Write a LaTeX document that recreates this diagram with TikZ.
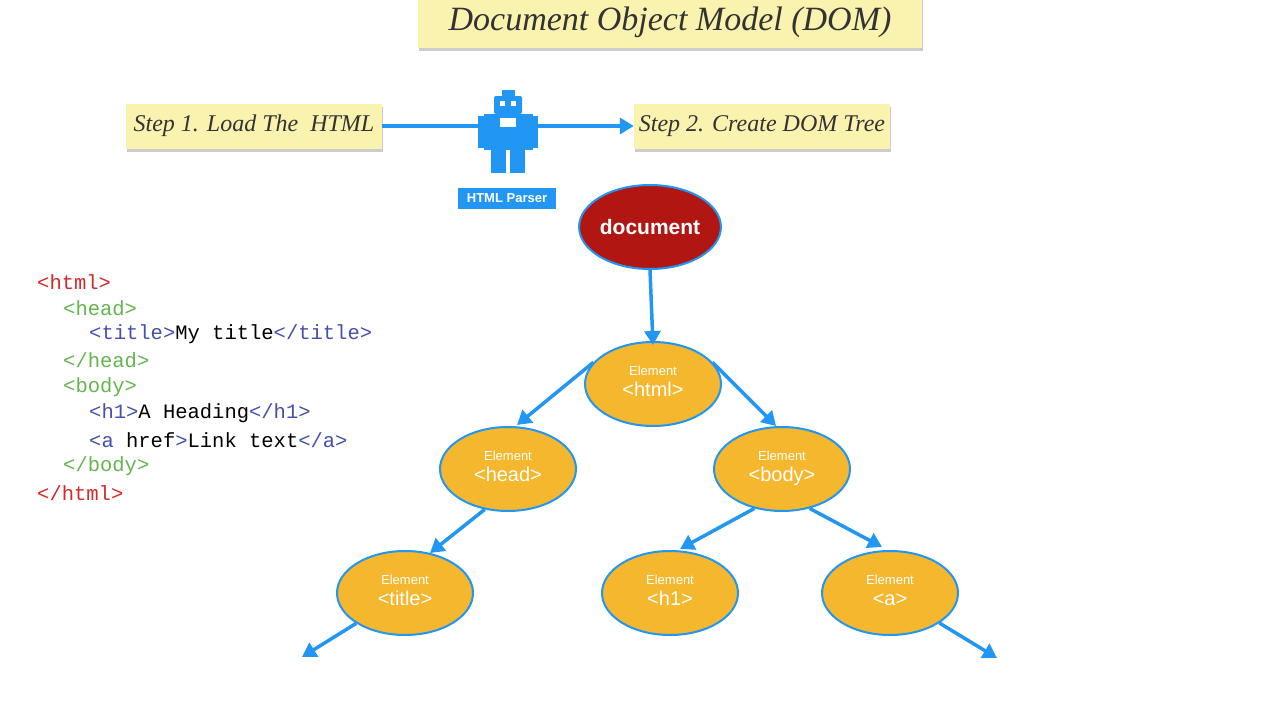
\documentclass[tikz,border=0pt]{standalone}
\usepackage{fontspec}
\setmainfont{Liberation Serif}
\setsansfont{Liberation Sans}
\setmonofont{Liberation Mono}
\usetikzlibrary{arrows.meta,shapes.geometric,shadows}
\definecolor{pblue}{RGB}{33,150,243}
\definecolor{note}{RGB}{250,242,175}
\definecolor{elem}{RGB}{244,183,46}
\definecolor{docred}{RGB}{178,22,18}
\definecolor{cred}{RGB}{210,40,40}
\definecolor{cgreen}{RGB}{100,180,80}
\definecolor{cblue}{RGB}{70,80,170}
\newcommand{\elt}[1]{{\fontsize{13}{14}\selectfont Element\strut}\\[2pt]{\fontsize{20}{20}\selectfont\strut #1}}
\begin{document}
\begin{tikzpicture}[x=1pt,y=-1pt,
  notebox/.style={fill=note,draw=none,drop shadow={shadow xshift=1pt,shadow yshift=-3pt,opacity=0.4},text=black!80},
  el/.style={ellipse,fill=elem,draw=pblue,line width=2pt,minimum width=136pt,minimum height=84pt,text=white,font=\sffamily,align=center,inner sep=0pt},
  arr/.style={pblue,line width=3.5pt,-{Triangle[length=14pt,width=16pt]}},
  code/.style={anchor=west,font=\ttfamily\fontsize{20.5}{22}\selectfont,inner sep=0pt}]
\useasboundingbox (0,0) rectangle (1280,720);
\node[notebox,minimum width=504pt,minimum height=52pt,font=\itshape\fontsize{34}{34}\selectfont] (t) at (670,22) {Document Object Model (DOM)};
\node[notebox,minimum width=256pt,minimum height=45pt,font=\itshape\fontsize{24}{24}\selectfont] (s1) at (254,126) {Step 1. Load The \ HTML};
\node[notebox,minimum width=256pt,minimum height=45pt,font=\itshape\fontsize{24}{24}\selectfont] (s2) at (762,126) {Step 2. Create DOM Tree};
% robot
\begin{scope}[fill=pblue]
\fill (502,90) rectangle (515,97);
\fill[rounded corners=2pt] (494,96) rectangle (522,114);
\fill[white] (500,101) rectangle (505,106); \fill[white] (511,101) rectangle (516,106);
\fill (484,114) rectangle (533,150);
\fill[white] (500,118) rectangle (516,127);
\fill (478,116) rectangle (488,148); \fill (528,116) rectangle (538,148);
\fill (491,150) rectangle (506,173); \fill (510,150) rectangle (525,173);
\end{scope}
\coordinate (rl) at (478,126); \coordinate (rr) at (538,126);
\node[fill=pblue,text=white,font=\sffamily\bfseries\fontsize{13}{13}\selectfont,minimum width=98pt,minimum height=21pt,inner sep=0pt] (hp) at (507,198) {HTML Parser};
\draw[pblue,line width=3.5pt] (s1.east) -- (rl);
\draw[arr] (rr) -- (s2.west);
% tree
\node[el,fill=docred,font=\sffamily\bfseries\fontsize{21}{21}\selectfont] (doc) at (650,227) {document};
\node[el] (html) at (653,384) {\elt{<html>}};
\node[el] (head) at (508,469) {\elt{<head>}};
\node[el] (body) at (782,469) {\elt{<body>}};
\node[el] (title) at (405,593) {\elt{<title>}};
\node[el] (h1) at (670,593) {\elt{<h1>}};
\node[el] (a) at (890,593) {\elt{<a>}};
\coordinate (f1) at (302,657); \coordinate (f2) at (997,658);
\draw[arr] (doc.south) -- ([yshift=-4pt]html.north);
\draw[arr] (html.160) -- (517,425);
\draw[arr] (html.20) -- (776,426);
\draw[arr] (head.240) -- (430,553);
\draw[arr] (body.235) -- (680,549);
\draw[arr] (body.305) -- (882,547);
\draw[arr] (title) -- (f1);
\draw[arr] (a) -- (f2);
% code
\node[code] (c1) at (37,282) {\textcolor{cred}{<html>}};
\node[code] (c2) at (63,308) {\textcolor{cgreen}{<head>}};
\node[code] (c3) at (89,334) {\textcolor{cblue}{<title>}My title\textcolor{cblue}{</title>}};
\node[code] (c4) at (63,360) {\textcolor{cgreen}{</head>}};
\node[code] (c5) at (63,387) {\textcolor{cgreen}{<body>}};
\node[code] (c6) at (89,413) {\textcolor{cblue}{<h1>}A Heading\textcolor{cblue}{</h1>}};
\node[code] (c7) at (89,440) {\textcolor{cblue}{<a }href\textcolor{cblue}{>}Link text\textcolor{cblue}{</a>}};
\node[code] (c8) at (63,466) {\textcolor{cgreen}{</body>}};
\node[code] (c9) at (37,493) {\textcolor{cred}{</html>}};
\end{tikzpicture}
\end{document}
